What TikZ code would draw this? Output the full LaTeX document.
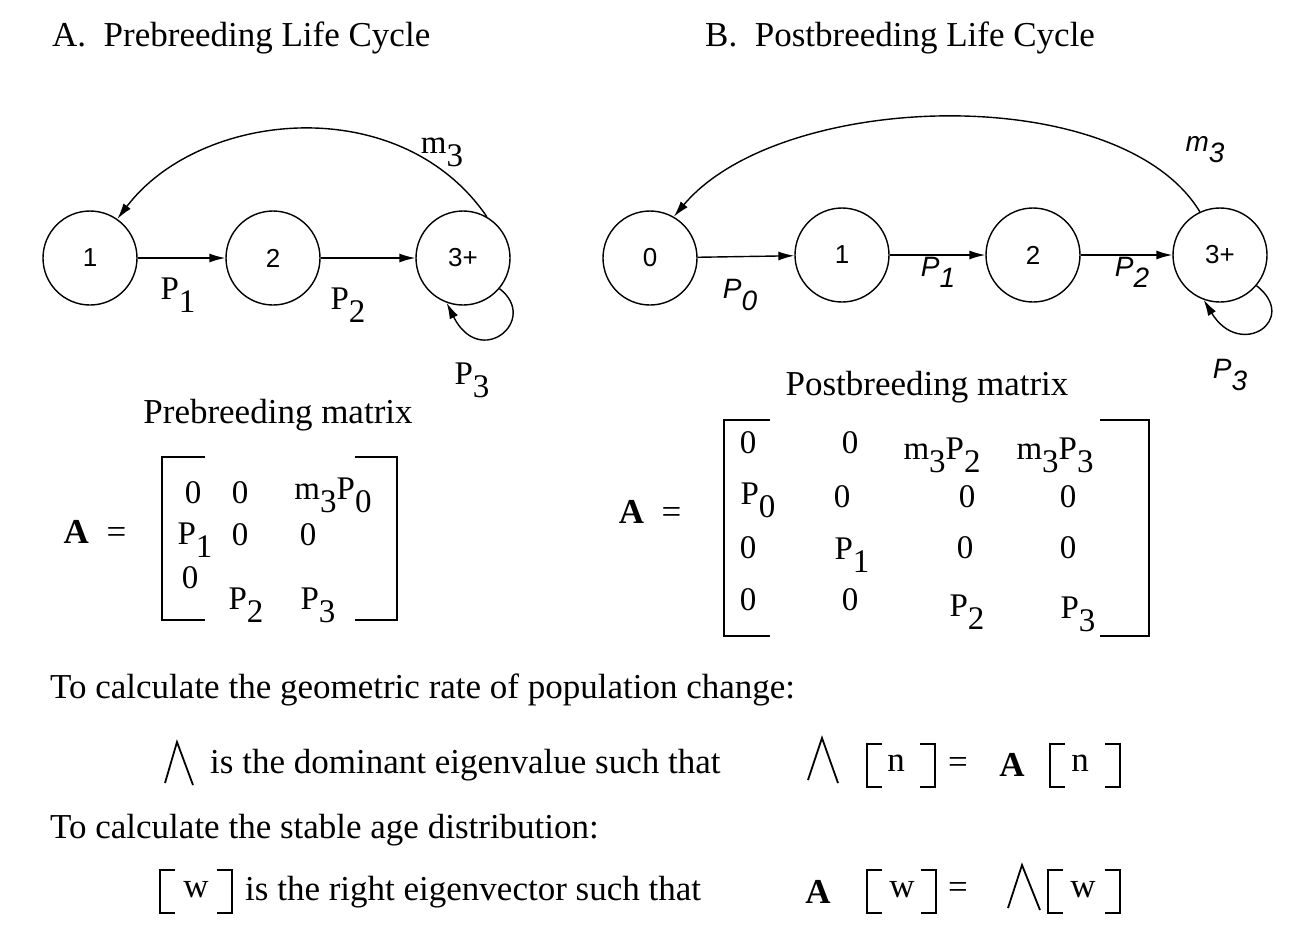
\documentclass[tikz,border=0pt]{standalone}
\usepackage{fontspec}
\setmainfont{Liberation Serif}
\newfontfamily\sff{Liberation Sans}
\usetikzlibrary{arrows.meta}
\newcommand{\sbs}[1]{\raisebox{-0.4em}{#1}}
\begin{document}
\begin{tikzpicture}[x=1pt,y=-1pt,
 st/.style={circle,draw,line width=1.4pt,minimum size=94pt,inner sep=0pt,font=\sff\fontsize{26}{26}\selectfont},
 ar/.style={line width=1.4pt,-{Latex[length=16pt,width=9pt]}},
 tx/.style={font=\fontsize{35}{38}\selectfont,inner sep=0pt},
 lb/.style={font=\fontsize{33}{36}\selectfont,inner sep=0pt},
 il/.style={font=\sff\itshape\fontsize{28}{30}\selectfont,inner sep=0pt},
 br/.style={line width=1.6pt},
 lam/.style={line width=1.8pt}]
\useasboundingbox (0,0) rectangle (1301,946);
% titles
\node[tx,anchor=west] (ta) at (52,38) {A.\ \ Prebreeding Life Cycle};
\node[tx,anchor=west] (tb) at (705,38) {B.\ \ Postbreeding Life Cycle};
% A graph
\node[st] (a1) at (90,258) {1};
\node[st] (a2) at (273,258) {2};
\node[st] (a3) at (463,258) {3+};
\draw[ar] (a1) -- (a2);
\draw[ar] (a2) -- (a3);
\draw[ar] (a3.60) .. controls (400,90) and (200,110) .. (a1.55);
\draw[ar] (a3.-40) .. controls (540,320) and (480,370) .. (a3.-110);
\node[lb] (lm) at (442,152) {m\sbs{3}};
\node[lb] (lp1) at (178,295) {P\sbs{1}};
\node[lb] (lp2) at (348,305) {P\sbs{2}};
\node[lb] (lp3) at (472,380) {P\sbs{3}};
% B graph
\node[st] (b0) at (650,258) {0};
\node[st] (b1) at (842,255) {1};
\node[st] (b2) at (1033,255) {2};
\node[st] (b3) at (1220,255) {3+};
\draw[ar] (b0) -- (b1);
\draw[ar] (b1) -- (b2);
\draw[ar] (b2) -- (b3);
\draw[ar] (b3.115) .. controls (1120,80) and (780,90) .. (b0.60);
\draw[ar] (b3.-40) .. controls (1300,320) and (1240,360) .. (b3.-110);
\node[il] (mb) at (1205,150) {m\sbs{3}};
\node[il] (q0) at (740,295) {P\sbs{0}};
\node[il] (q1) at (938,272) {P\sbs{1}};
\node[il] (q2) at (1132,272) {P\sbs{2}};
\node[il] (q3) at (1230,375) {P\sbs{3}};
% prebreeding matrix
\node[tx] (pt) at (278,415) {Prebreeding matrix};
\node[tx] (aa) at (95,532) {\textbf{A}\ \ =};
\draw[br] (205,457) -- (162,457) -- (162,620) -- (205,620);
\draw[br] (355,457) -- (397,457) -- (397,620) -- (355,620);
\node[lb] at (193,493) {0};\node[lb] at (240,493) {0};\node[lb] at (333,495) {m\sbs{3}P\sbs{0}};
\node[lb] at (195,540) {P\sbs{1}};\node[lb] at (240,535) {0};\node[lb] at (308,535) {0};
\node[lb] at (190,578) {0};\node[lb] at (246,605) {P\sbs{2}};\node[lb] at (318,605) {P\sbs{3}};
% postbreeding matrix
\node[tx] (qt) at (927,387) {Postbreeding matrix};
\node[tx] (ab) at (650,512) {\textbf{A}\ \ =};
\draw[br] (770,420) -- (724,420) -- (724,636) -- (770,636);
\draw[br] (1100,420) -- (1149,420) -- (1149,636) -- (1100,636);
\node[lb] at (748,443) {0};\node[lb] at (850,443) {0};\node[lb] at (942,455) {m\sbs{3}P\sbs{2}};\node[lb] at (1055,455) {m\sbs{3}P\sbs{3}};
\node[lb] at (758,500) {P\sbs{0}};\node[lb] at (842,497) {0};\node[lb] at (967,497) {0};\node[lb] at (1068,497) {0};
\node[lb] at (748,548) {0};\node[lb] at (852,555) {P\sbs{1}};\node[lb] at (965,548) {0};\node[lb] at (1068,548) {0};
\node[lb] at (748,600) {0};\node[lb] at (850,600) {0};\node[lb] at (967,612) {P\sbs{2}};\node[lb] at (1078,614) {P\sbs{3}};
% text
\node[tx,anchor=west] (t1) at (50,690) {To calculate the geometric rate of population change:};
\coordinate (L1) at (177,742);
\draw[lam] (165,783) -- (L1) -- (193,785);
\node[tx,anchor=west] (t2) at (210,765) {is the dominant eigenvalue such that};
\coordinate (L2) at (822,738);
\draw[lam] (808,780) -- (L2) -- (838,783);
\draw[br] (882,744) -- (867,744) -- (867,787) -- (882,787);
\draw[br] (920,744) -- (935,744) -- (935,787) -- (920,787);
\node[tx] (n1) at (896,763) {n};
\node[tx] (e1) at (958,765) {=};
\node[tx] (a4) at (1012,765) {\textbf{A}};
\draw[br] (1065,744) -- (1050,744) -- (1050,787) -- (1065,787);
\draw[br] (1105,744) -- (1120,744) -- (1120,787) -- (1105,787);
\node[tx] (n2) at (1080,763) {n};
\node[tx,anchor=west] (t3) at (50,830) {To calculate the stable age distribution:};
\draw[br] (175,870) -- (160,870) -- (160,913) -- (175,913);
\draw[br] (217,870) -- (232,870) -- (232,913) -- (217,913);
\node[tx] (w1) at (196,890) {w};
\node[tx,anchor=west] (t4) at (245,892) {is the right eigenvector such that};
\node[tx] (a5) at (818,892) {\textbf{A}};
\draw[br] (882,870) -- (867,870) -- (867,913) -- (882,913);
\draw[br] (921,870) -- (936,870) -- (936,913) -- (921,913);
\node[tx] (w2) at (902,890) {w};
\node[tx] (e2) at (958,890) {=};
\coordinate (L3) at (1022,865);
\draw[lam] (1008,908) -- (L3) -- (1040,910);
\draw[br] (1063,870) -- (1048,870) -- (1048,913) -- (1063,913);
\draw[br] (1105,870) -- (1120,870) -- (1120,913) -- (1105,913);
\node[tx] (w3) at (1083,890) {w};
\end{tikzpicture}
\end{document}
